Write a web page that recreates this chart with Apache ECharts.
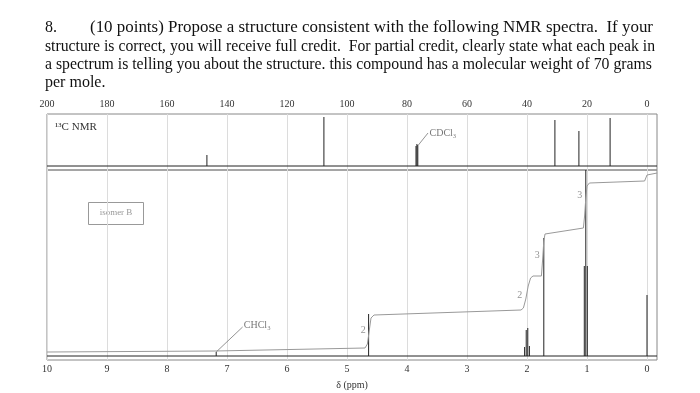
<!DOCTYPE html>
<html><head><meta charset="utf-8">
<script src="https://cdn.jsdelivr.net/npm/echarts@6/dist/echarts.min.js"></script>
<style>html,body{margin:0;padding:0;background:#fff}#c{width:700px;height:393px}</style>
</head><body><div id="c"></div>
<script>
// ---- text ----
const questionNumber = '8.';
const questionLines = [
  '(10 points) Propose a structure consistent with the following NMR spectra.  If your',
  'structure is correct, you will receive full credit.  For partial credit, clearly state what each peak in',
  'a spectrum is telling you about the structure. this compound has a molecular weight of 70 grams',
  'per mole.'
];
// ---- axes ----
const c13Ticks = [0, 20, 40, 60, 80, 100, 120, 140, 160, 180, 200];
const h1Ticks = [0, 1, 2, 3, 4, 5, 6, 7, 8, 9, 10];
// ---- 13C spectrum (ppm, intensity) ----
const c13Shifts  = [146.7, 107.7, 77.0, 76.7, 76.4, 30.7, 22.7, 12.3];
const c13Heights = [11, 49, 20, 22, 21, 46, 35, 48];
// ---- 1H spectrum (ppm, intensity) ----
const h1Shifts  = [7.18, 4.64, 2.04, 2.013, 1.987, 1.96, 1.72, 1.045, 1.02, 0.995, 0.0];
const h1Heights = [4, 42, 9, 26, 28, 10, 118, 90, 186, 90, 61];
// ---- integral trace ----
const integralPpm    = [10, 7.2, 4.70, 4.66, 4.63, 4.60, 4.55, 2.10, 2.06, 2.02, 1.98, 1.94, 1.90, 1.76, 1.74, 1.72, 1.70, 1.67, 1.06, 1.04, 1.02, 1.00, 0.96, 0.04, 0.02, 0.0, -0.03, -0.17];
const integralValues = [4, 5, 8, 12, 25, 38, 41, 46, 48, 57, 70, 78, 80, 80, 96, 115, 122, 124, 128, 140, 158, 170, 173, 175, 177, 181, 183, 183];
const integralLabelText = ['2', '2', '3', '3'];
const integralLabelPpm  = [4.73, 2.12, 1.83, 1.12];
const integralLabelVal  = [26, 61, 101, 161];

const serif = "'Liberation Serif', 'DejaVu Serif', serif";
const ink = '#222';

const chart = echarts.init(document.getElementById('c'));

function measure(txt, size) {
  const ctx = document.createElement('canvas').getContext('2d');
  ctx.font = size + 'px ' + serif;
  return ctx.measureText(txt).width;
}
const titleSize = 16;
const lineTargets = [[90, 653], [45, 655], [45, 652], [45, 103]];
const lineY = [28, 47, 65, 83];
const graphics = [];
graphics.push({type: 'text', x: 45, y: lineY[0], style: {text: questionNumber, font: titleSize + 'px ' + serif, fill: '#111', verticalAlign: 'middle'}});
questionLines.forEach((t, i) => {
  const w = measure(t, titleSize);
  const target = lineTargets[i][1] - lineTargets[i][0];
  const sx = i === 3 ? 1 : target / w;
  graphics.push({type: 'text', x: lineTargets[i][0], y: lineY[i], scaleX: sx,
    style: {text: t, font: titleSize + 'px ' + serif, fill: '#111', verticalAlign: 'middle'}});
});
graphics.push({type: 'text', x: 55, y: 127, style: {text: '¹³C NMR', font: '11px ' + serif, fill: '#333', verticalAlign: 'middle'}});
graphics.push({type: 'rect', shape: {x: 88.5, y: 202.5, width: 55, height: 22}, style: {fill: '#fff', stroke: '#999', lineWidth: 1}});
graphics.push({type: 'text', x: 116, y: 213, style: {text: 'isomer B', font: '9px ' + serif, fill: '#999', align: 'center', verticalAlign: 'middle'}});

const axisLabelStyle = {fontFamily: serif, fontSize: 10, color: '#333'};

chart.setOption({
  animation: false,
  backgroundColor: '#fff',
  graphic: graphics,
  grid: [
    {left: 47, right: 43, top: 114, height: 56, show: true, borderColor: '#888', borderWidth: 1},
    {left: 47, right: 43, top: 170, height: 190, show: true, borderColor: '#888', borderWidth: 1}
  ],
  xAxis: [
    {type: 'value', gridIndex: 0, inverse: true, min: -10 / 3, max: 200, position: 'top',
     axisLine: {show: false}, axisTick: {show: false, customValues: c13Ticks},
     axisLabel: Object.assign({customValues: c13Ticks, margin: 5}, axisLabelStyle),
     splitLine: {show: true, lineStyle: {color: '#dcdcdc', width: 1}}},
    {type: 'value', gridIndex: 1, inverse: true, min: -1 / 6, max: 10, position: 'bottom',
     axisLine: {show: false}, axisTick: {show: false, customValues: h1Ticks},
     axisLabel: Object.assign({customValues: h1Ticks, margin: 4}, axisLabelStyle),
     splitLine: {show: true, lineStyle: {color: '#dcdcdc', width: 1}},
     name: 'δ (ppm)', nameLocation: 'middle', nameGap: 20,
     nameTextStyle: {fontFamily: serif, fontSize: 10, color: '#333'}}
  ],
  yAxis: [
    {type: 'value', gridIndex: 0, min: -4, max: 52, show: false},
    {type: 'value', gridIndex: 1, min: -4, max: 186, show: false}
  ],
  series: [
    {type: 'line', xAxisIndex: 0, yAxisIndex: 0, symbol: 'none', silent: true,
     lineStyle: {color: ink, width: 1}, data: [[200, 0], [-10 / 3, 0]]},
    {type: 'bar', xAxisIndex: 0, yAxisIndex: 0, barWidth: 1, itemStyle: {color: ink},
     data: c13Shifts.map((p, i) => [p, c13Heights[i]])},
    {type: 'line', xAxisIndex: 0, yAxisIndex: 0, symbol: 'none', silent: true,
     lineStyle: {color: '#777', width: 0.8}, data: [[76.2, 21], [73, 33]]},
    {type: 'scatter', xAxisIndex: 0, yAxisIndex: 0, symbolSize: 0,
     label: {show: true, position: 'right', distance: 0, formatter: 'CDCl₃', fontFamily: serif, fontSize: 10, color: '#555'},
     data: [[72.5, 33]]},
    {type: 'line', xAxisIndex: 1, yAxisIndex: 1, symbol: 'none', silent: true,
     lineStyle: {color: ink, width: 1}, data: [[10, 0], [-1 / 6, 0]]},
    {type: 'bar', xAxisIndex: 1, yAxisIndex: 1, barWidth: 1, itemStyle: {color: ink},
     data: h1Shifts.map((p, i) => [p, h1Heights[i]])},
    {type: 'line', xAxisIndex: 1, yAxisIndex: 1, symbol: 'none', silent: true,
     lineStyle: {color: '#999', width: 1}, data: integralPpm.map((p, i) => [p, integralValues[i]])},
    {type: 'scatter', xAxisIndex: 1, yAxisIndex: 1, symbolSize: 0,
     label: {show: true, position: 'inside', formatter: p => p.data[2], fontFamily: serif, fontSize: 10, color: '#777'},
     data: integralLabelPpm.map((p, i) => [p, integralLabelVal[i], integralLabelText[i]])},
    {type: 'line', xAxisIndex: 1, yAxisIndex: 1, symbol: 'none', silent: true,
     lineStyle: {color: '#777', width: 0.8}, data: [[7.18, 4], [6.74, 29]]},
    {type: 'scatter', xAxisIndex: 1, yAxisIndex: 1, symbolSize: 0,
     label: {show: true, position: 'right', distance: 0, formatter: 'CHCl₃', fontFamily: serif, fontSize: 10, color: '#555'},
     data: [[6.72, 31]]}
  ]
});
</script>
</body></html>
